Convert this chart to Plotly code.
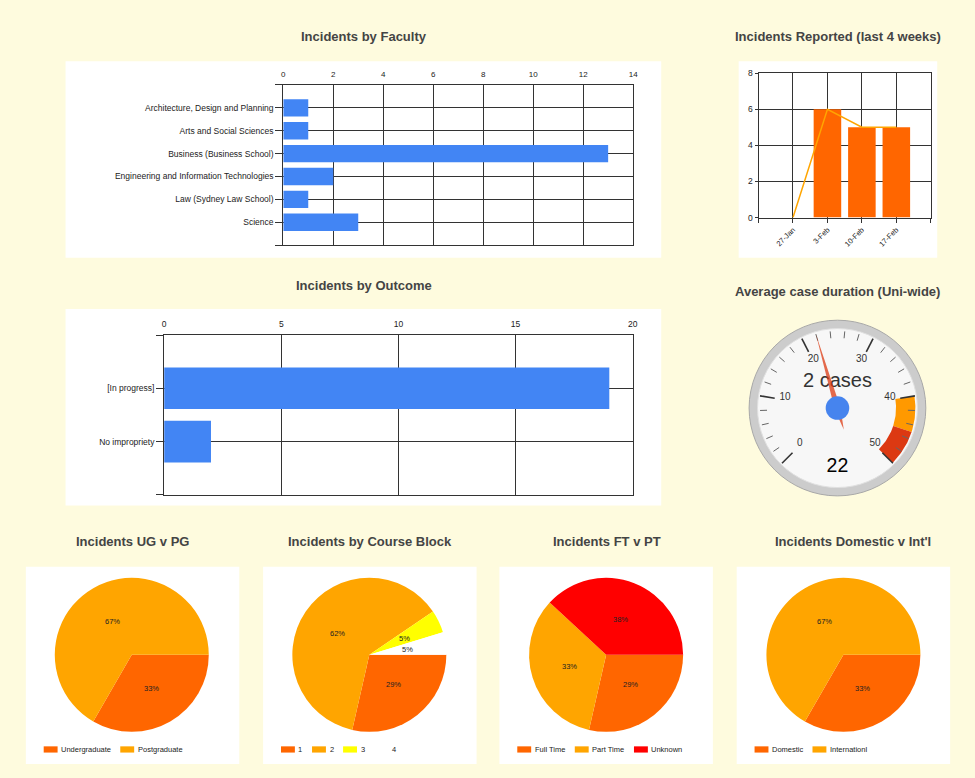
import math
import plotly.graph_objects as go

W, H = 975, 778
BG = '#FEFBDE'
FONT = 'Arial, "Liberation Sans", sans-serif'
GRID = '#333333'
TXT = '#222222'
TITLE = '#444444'
BLUE = '#4285F4'

# ---------------- data ----------------
faculties = ['Architecture, Design and Planning', 'Arts and Social Sciences',
             'Business (Business School)', 'Engineering and Information Technologies',
             'Law (Sydney Law School)', 'Science']
faculty_counts = [1, 1, 13, 2, 1, 3]

weeks = ['27-Jan', '3-Feb', '10-Feb', '17-Feb']
week_counts = [0, 6, 5, 5]

outcomes = ['[In progress]', 'No impropriety']
outcome_counts = [19, 2]

gauge_min, gauge_max = 0, 50
gauge_value = 22
gauge_label = '2 cases'
gauge_major = [0, 10, 20, 30, 40, 50]
gauge_minor_step = 2
band_from = [40, 45]
band_to = [45, 50]

ugpg_labels = ['Undergraduate', 'Postgraduate']
ugpg_values = [7, 14]
block_labels = ['1', '2', '3', '4']
block_values = [6, 13, 1, 1]
ftpt_labels = ['Full Time', 'Part Time', 'Unknown']
ftpt_values = [6, 7, 8]
dom_labels = ['Domestic', 'Internationl']
dom_values = [7, 14]

# ---------------- styles ----------------
band_colors = ['#FF9900', '#DC3912']
ugpg_colors = ['#FF6600', '#FFA500']
block_colors = ['#FF6600', '#FFA500', '#FFFF00', '#FFFFFF']
ftpt_colors = ['#FF6600', '#FFA500', '#FF0000']
dom_colors = ['#FF6600', '#FFA500']


def px_x(x):
    return x / W


def px_y(y):
    return 1 - y / H


def dom_x(a, b):
    return [a / W, b / W]


def dom_y(top, bottom):
    return [1 - bottom / H, 1 - top / H]


fig = go.Figure()
shapes = []
annotations = []

# white panels
panels = [(64, 57, 664, 256), (742, 57, 942, 256), (64, 308, 664, 507),
          (24, 569, 239, 769), (263, 569, 478, 769), (501, 569, 716, 769), (740, 569, 955, 769)]
for (x0, y0, x1, y1) in panels:
    shapes.append(dict(type='rect', xref='paper', yref='paper', x0=px_x(x0), x1=px_x(x1),
                       y0=px_y(y1), y1=px_y(y0), fillcolor='white', line=dict(width=0), layer='below'))

titles = [('Incidents by Faculty', 364.5, 31.5),
          ('Incidents Reported (last 4 weeks)', 842, 31.5),
          ('Incidents by Outcome', 364.5, 284.5),
          ('Average case duration (Uni-wide)', 842, 290.5),
          ('Incidents UG v PG', 131, 543.5),
          ('Incidents by Course Block', 370.5, 543.5),
          ('Incidents FT v PT', 609, 543.5),
          ("Incidents Domestic v Int'l", 857, 543.5)]
for t, x, y in titles:
    annotations.append(dict(text='<b>' + t + '</b>', x=px_x(x), y=px_y(y), xref='paper', yref='paper',
                            showarrow=False, xanchor='center', yanchor='middle',
                            font=dict(family=FONT, size=13, color=TITLE)))

# ---------------- faculty bars ----------------
fig.add_trace(go.Bar(x=faculty_counts, y=list(range(len(faculties))), orientation='h', width=0.76,
                     marker=dict(color=BLUE, line=dict(width=0)), xaxis='x', yaxis='y',
                     text=faculties, hoverinfo='text+x', textposition='none'))

# ---------------- weekly ----------------
week_idx = list(range(len(weeks)))
fig.add_trace(go.Bar(x=week_idx, y=week_counts, width=0.8, marker=dict(color='#FF6600', line=dict(width=0)),
                     xaxis='x2', yaxis='y2', hoverinfo='y'))
fig.add_trace(go.Scatter(x=week_idx, y=week_counts, mode='lines', line=dict(color='#FFA500', width=1.5),
                         xaxis='x2', yaxis='y2', hoverinfo='y'))

# ---------------- outcome bars ----------------
fig.add_trace(go.Bar(x=outcome_counts, y=list(range(len(outcomes))), orientation='h', width=0.78,
                     marker=dict(color=BLUE, line=dict(width=0)), xaxis='x3', yaxis='y3',
                     text=outcomes, hoverinfo='text+x', textposition='none'))

# ---------------- gauge ----------------
GCX, GCY = 841.5, 408.3


def g_angle(v):
    return math.radians(-135 + 270 * (v - gauge_min) / (gauge_max - gauge_min))


def g_pt(v, r):
    a = g_angle(v)
    return r * math.sin(a), r * math.cos(a)


shapes.append(dict(type='circle', xref='x4', yref='y4', x0=-89, x1=89, y0=-89, y1=89,
                   fillcolor='#CCCCCC', line=dict(color='#A8A8A8', width=1), layer='below'))
shapes.append(dict(type='circle', xref='x4', yref='y4', x0=-80.5, x1=80.5, y0=-80.5, y1=80.5,
                   fillcolor='#F7F7F7', line=dict(color='#E0E0E0', width=1), layer='below'))

for f, t, c in zip(band_from, band_to, band_colors):
    vs = [f + (t - f) * k / 30 for k in range(31)]
    outer = [g_pt(v, 78.5) for v in vs]
    inner = [g_pt(v, 59) for v in reversed(vs)]
    pts = outer + inner + [outer[0]]
    fig.add_trace(go.Scatter(x=[p[0] for p in pts], y=[p[1] for p in pts], mode='lines', fill='toself',
                             fillcolor=c, line=dict(width=0, color=c), xaxis='x4', yaxis='y4', hoverinfo='skip'))

mx, my = [], []
for v in range(gauge_min, gauge_max + 1, gauge_minor_step):
    if v in gauge_major:
        continue
    a, b = g_pt(v, 71), g_pt(v, 78)
    mx += [a[0], b[0], None]
    my += [a[1], b[1], None]
fig.add_trace(go.Scatter(x=mx, y=my, mode='lines', line=dict(color='#666666', width=1),
                         xaxis='x4', yaxis='y4', hoverinfo='skip'))
Mx, My = [], []
for v in gauge_major:
    a, b = g_pt(v, 64), g_pt(v, 79)
    Mx += [a[0], b[0], None]
    My += [a[1], b[1], None]
fig.add_trace(go.Scatter(x=Mx, y=My, mode='lines', line=dict(color='#333333', width=1.6),
                         xaxis='x4', yaxis='y4', hoverinfo='skip'))
lp = [g_pt(v, 53.5) for v in gauge_major]
fig.add_trace(go.Scatter(x=[p[0] for p in lp], y=[p[1] + 2 for p in lp], mode='text',
                         text=[str(v) for v in gauge_major], textposition='middle center',
                         textfont=dict(family=FONT, size=10, color='#333333'),
                         xaxis='x4', yaxis='y4', hoverinfo='skip'))
fig.add_trace(go.Scatter(x=[0], y=[26.6], mode='text', text=[gauge_label], textposition='middle center',
                         textfont=dict(family=FONT, size=20, color='#333333'),
                         xaxis='x4', yaxis='y4', hoverinfo='skip'))
fig.add_trace(go.Scatter(x=[0], y=[-59.4], mode='text', text=[str(gauge_value)], textposition='middle center',
                         textfont=dict(family=FONT, size=19.5, color='#000000'),
                         xaxis='x4', yaxis='y4', hoverinfo='skip'))
a = g_angle(gauge_value)
ux, uy = math.sin(a), math.cos(a)
pxv, pyv = math.cos(a), -math.sin(a)
needle = [(78 * ux, 78 * uy), (3 * pxv, 3 * pyv), (-23 * ux, -23 * uy), (-3 * pxv, -3 * pyv), (78 * ux, 78 * uy)]
fig.add_trace(go.Scatter(x=[p[0] for p in needle], y=[p[1] for p in needle], mode='lines', fill='toself',
                         fillcolor='rgba(220,57,18,0.75)', line=dict(width=0, color='rgba(220,57,18,0.75)'),
                         xaxis='x4', yaxis='y4', hoverinfo='skip'))
fig.add_trace(go.Scatter(x=[0], y=[0], mode='markers', marker=dict(size=23.6, color='#4684EE', line=dict(width=0)),
                         xaxis='x4', yaxis='y4', hoverinfo='skip'))

# ---------------- pies ----------------
AW = {' ': 278, "'": 191, '%': 889}
for ch in '0123456789':
    AW[ch] = 556
AW.update(dict(A=667, B=667, C=722, D=722, E=667, F=611, G=778, H=722, I=278, J=500, K=667, L=556, M=833,
               N=722, O=778, P=667, Q=778, R=722, S=667, T=611, U=722, V=667, W=944, X=667, Y=667, Z=611,
               a=556, b=556, c=500, d=556, e=556, f=278, g=556, h=556, i=222, j=222, k=500, l=222, m=833,
               n=556, o=556, p=556, q=556, r=333, s=500, t=278, u=556, v=500, w=722, x=500, y=500, z=500))


def text_w(s, size):
    return sum(AW.get(ch, 556) for ch in s) * size / 1000


R = 78
PCY = 658.3
LEG_FS = 7.5
pies = [(ugpg_labels, ugpg_values, ugpg_colors, 130.7, 24),
        (block_labels, block_values, block_colors, 370, 263),
        (ftpt_labels, ftpt_values, ftpt_colors, 608.5, 501),
        (dom_labels, dom_values, dom_colors, 847.5, 740)]
for labels, values, colors, cx, pleft in pies:
    fig.add_trace(go.Pie(values=values, labels=labels, marker=dict(colors=colors, line=dict(width=0)),
                         sort=False, direction='clockwise', rotation=90, textinfo='none', showlegend=False,
                         domain=dict(x=[(cx - R) / W, (cx + R) / W], y=[1 - (PCY + R) / H, 1 - (PCY - R) / H]),
                         hoverinfo='label+percent'))
    tot = sum(values)
    cum = 0
    for v in values:
        mid = (cum + v / 2) / tot
        th = math.radians(90 + 360 * mid)
        lx = cx + 0.5 * R * math.sin(th)
        ly = PCY - 0.5 * R * math.cos(th)
        annotations.append(dict(text='%d%%' % round(100 * v / tot), x=px_x(lx), y=px_y(ly), xref='paper',
                                yref='paper', showarrow=False, xanchor='center', yanchor='middle',
                                font=dict(family=FONT, size=LEG_FS, color=TXT)))
        cum += v
    # legend
    lx = pleft + 18
    for lab, col in zip(labels, colors):
        shapes.append(dict(type='rect', xref='paper', yref='paper', x0=px_x(lx), x1=px_x(lx + 14),
                           y0=px_y(757.3), y1=px_y(751), fillcolor=col, line=dict(width=0), layer='above'))
        tx = lx + 17.6
        annotations.append(dict(text=lab, x=px_x(tx - 2), y=px_y(754.3), xref='paper', yref='paper',
                                showarrow=False, xanchor='left', yanchor='middle',
                                font=dict(family=FONT, size=LEG_FS, color=TXT)))
        lx = tx + text_w(lab, LEG_FS) + 9.5


def tickfont(sz):
    return dict(family=FONT, size=sz, color=TXT)


common = dict(showgrid=True, gridcolor=GRID, gridwidth=1, zeroline=False, showline=True, mirror=True,
              linecolor=GRID, linewidth=1, fixedrange=True)

nf = len(faculties)
no = len(outcomes)
nw = len(weeks)
fig.update_layout(
    width=W, height=H, margin=dict(l=0, r=0, t=0, b=0), autosize=False,
    paper_bgcolor=BG, plot_bgcolor='rgba(0,0,0,0)', showlegend=False,
    font=dict(family=FONT, color=TXT),
    xaxis=dict(domain=dom_x(283.3, 635.7), anchor='y', range=[0, 14], dtick=2, side='top', ticks='',
               ticklabelstandoff=4, tickfont=tickfont(8), **common),
    yaxis=dict(domain=dom_y(81, 243.3), anchor='x', range=[nf, -1], tickmode='array',
               tickvals=list(range(-1, nf + 1)), ticktext=[''] + faculties + [''], ticks='outside',
               ticklen=7, tickcolor=GRID, tickfont=tickfont(8.5), **common),
    xaxis2=dict(domain=dom_x(762, 935.5), anchor='y2', range=[-1, nw], tickmode='array',
                tickvals=list(range(-1, nw + 1)), ticktext=[''] + weeks + [''], tickangle=-45,
                ticks='outside', ticklen=4, tickcolor=GRID, tickfont=tickfont(7.5), **common),
    yaxis2=dict(domain=dom_y(69, 215.3), anchor='x2', range=[0, 8], dtick=2, ticks='outside', ticklen=3,
                tickcolor=GRID, tickfont=tickfont(8.5), **common),
    xaxis3=dict(domain=dom_x(163.3, 635.3), anchor='y3', range=[0, 20], dtick=5, side='top', ticks='',
                ticklabelstandoff=4, tickfont=tickfont(8.5), **common),
    yaxis3=dict(domain=dom_y(334.3, 496.3), anchor='x3', range=[no, -1], tickmode='array',
                tickvals=list(range(-1, no + 1)), ticktext=[''] + outcomes + [''], ticks='outside',
                ticklen=7, tickcolor=GRID, tickfont=tickfont(8.5), **common),
    xaxis4=dict(domain=dom_x(GCX - 95, GCX + 95), anchor='y4', range=[-95, 95], visible=False, fixedrange=True),
    yaxis4=dict(domain=dom_y(GCY - 95, GCY + 95), anchor='x4', range=[-95, 95], visible=False, fixedrange=True),
    shapes=shapes, annotations=annotations,
)

fig.write_html('out.html')
